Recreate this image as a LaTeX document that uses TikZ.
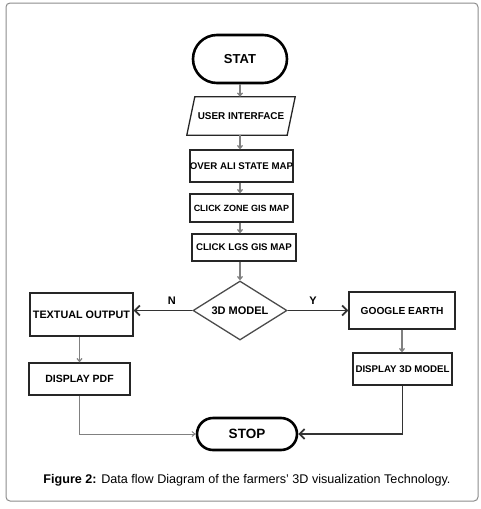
\documentclass[tikz,border=0pt]{standalone}
\usepackage{fontspec}
\setmainfont{Liberation Sans}
\usetikzlibrary{shapes.geometric,shapes.misc,arrows.meta,calc}
\newcommand{\bsz}[1]{\bfseries\fontsize{#1}{#1}\selectfont}
\begin{document}
\begin{tikzpicture}[x=1pt,y=-1pt,
  box/.style={draw=black!85,line width=1.3pt,rectangle,inner sep=0pt},
  term/.style={draw=black,line width=2.6pt,rounded rectangle,inner sep=0pt},
  garrow/.style={draw=black!50,line width=1.2pt,-{Straight Barb[length=3pt,width=5pt]}},
  darrow/.style={draw=black!80,line width=1.8pt,-{Straight Barb[length=5pt,width=10pt]}},
  lbl/.style={font=\bsz{11},inner sep=0pt}]
\useasboundingbox (0,0) rectangle (481,509);
\draw[draw=black!45,line width=1pt,rounded corners=4pt] (6,3) rectangle (478,501);
\node[term,minimum width=94pt,minimum height=48pt,font=\bsz{13}] (stat) at (240,59) {STAT};
\node[inner sep=0pt,minimum width=108pt,minimum height=38pt,font=\bsz{9.9}] (ui) at (241,116) {USER INTERFACE};
\draw[draw=black!85,line width=1.3pt] ($(ui.south west)$) -- ($(ui.north west)+(8,0)$) -- (ui.north east) -- ($(ui.south east)+(-8,0)$) -- cycle;
\node[box,minimum width=103pt,minimum height=32pt,font=\bsz{9.7}] (over) at (241.5,166) {OVER ALI STATE MAP};
\node[box,minimum width=103pt,minimum height=28pt,font=\bsz{9}] (zone) at (241.5,208) {CLICK ZONE GIS MAP};
\node[box,minimum width=104pt,minimum height=27pt,font=\bsz{9.7}] (lgs) at (244,247.5) {CLICK LGS GIS MAP};
\node[box,diamond,shape aspect=1.6,minimum width=94pt,minimum height=59pt,draw=black!70,font=\bsz{11}] (model) at (240,310.5) {3D MODEL};
\node[box,minimum width=103pt,minimum height=43pt,font=\bsz{10.8}] (textual) at (81.5,314.5) {TEXTUAL OUTPUT};
\node[box,minimum width=106pt,minimum height=37pt,font=\bsz{10.2}] (google) at (402,310.5) {GOOGLE EARTH};
\node[box,minimum width=101pt,minimum height=32pt,font=\bsz{10.5}] (pdf) at (79.5,379) {DISPLAY PDF};
\node[box,minimum width=99pt,minimum height=32pt,font=\bsz{9.7}] (disp) at (402.5,369) {DISPLAY 3D MODEL};
\node[term,minimum width=100pt,minimum height=32pt,font=\bsz{13.5}] (stop) at (247,434) {STOP};
\node[font=\fontsize{12.6}{14}\selectfont,inner sep=0pt] (cap) at (247,480) {\textbf{Figure 2:} Data flow Diagram of the farmers’ 3D visualization Technology.};
\draw[garrow] (stat.south) -- (ui.north -| stat.south);
\draw[garrow] (ui.south -| stat.south) -- (over.north -| stat.south);
\draw[garrow] (over.south -| stat.south) -- (zone.north -| stat.south);
\draw[garrow] (zone.south -| stat.south) -- (lgs.north -| stat.south);
\draw[garrow] (lgs.south -| model.north) -- (model.north);
\draw[darrow] (model.west) -- (model.west -| textual.east) node[lbl,pos=0.35,above=5pt] (n) {N};
\draw[darrow] (model.east) -- (model.east -| google.west) node[lbl,pos=0.42,above=5pt] (y) {Y};
\draw[garrow] (textual.south -| pdf.north) -- (pdf.north);
\draw[garrow] (google.south) -- (disp.north -| google.south);
\draw[garrow,line width=1pt] (pdf.south) |- (stop.west);
\draw[darrow] (disp.south) |- (stop.east);
\end{tikzpicture}
\end{document}
